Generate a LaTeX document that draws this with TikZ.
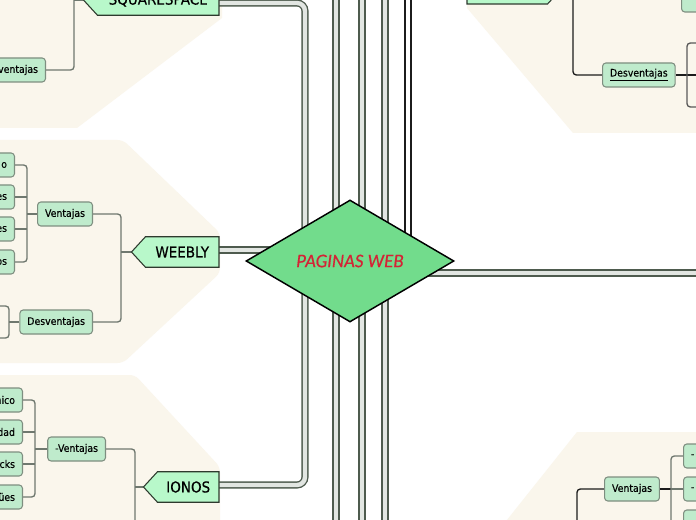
\documentclass[tikz,border=0pt]{standalone}
\usepackage{fontspec}
\usetikzlibrary{shapes.geometric}
\newfontfamily\boxfont[FakeStretch=0.9,FakeBold=0.2]{DejaVu Sans}
\newfontfamily\mainfont[FakeStretch=0.9,FakeBold=0.5]{DejaVu Sans}
\newfontfamily\diafont[FakeBold=0.6]{Lato}
\definecolor{beige}{HTML}{FAF6EC}
\definecolor{boxfill}{HTML}{BFEBCC}
\definecolor{boxline}{HTML}{7E8E80}
\definecolor{mainfill}{HTML}{B8F8CA}
\definecolor{mainline}{HTML}{2E3A2E}
\definecolor{diafill}{HTML}{72DC8C}
\definecolor{diatext}{HTML}{D42335}
\definecolor{dline}{HTML}{4E5B4E}
\definecolor{dinner}{HTML}{E2E6E2}
\definecolor{treeline}{HTML}{6F786F}
\definecolor{darkline}{HTML}{1C1C1C}
\pgfdeclarelayer{back}
\pgfdeclarelayer{mid}
\pgfsetlayers{back,mid,main}
\begin{document}
\begin{tikzpicture}[x=0.75pt,y=-0.75pt,
  dbl/.style={draw=dline,line width=1pt,double=dinner,double distance=3.3pt},
  dblk/.style={draw=darkline,line width=1pt,double=white,double distance=3.3pt},
  tl/.style={draw=treeline,line width=1pt,rounded corners=2.5pt},
  tlk/.style={draw=darkline,line width=1pt,rounded corners=2.5pt},
  tlg/.style={draw=black!65,line width=1pt,rounded corners=2.5pt},
  box/.style={draw=boxline,fill=boxfill,line width=0.8pt,rounded corners=2.5pt,
    minimum height=18pt,inner xsep=5.6pt,inner ysep=0pt,text=black,
    font=\boxfont\fontsize{7.8pt}{9pt}\selectfont},
  leafR/.style={box,anchor=east,text width=30pt,align=right},
  leafL/.style={box,anchor=west,text width=30pt,align=left},
  mainlbl/.style={minimum height=22.5pt,inner sep=0pt,text=black,
    font=\mainfont\fontsize{11.25pt}{13pt}\selectfont},
  mainshape/.style={fill=mainfill,draw=mainline,line width=0.8pt}
]
\useasboundingbox (0,0) rectangle (696,520);

% ---------- background regions ----------
\begin{pgfonlayer}{back}
\fill[white] (0,0) rectangle (696,520);
\fill[beige] (-10,-10) -- (222,-10) -- (222,18) -- (77,128) -- (-10,128) -- cycle;
\fill[beige,rounded corners=4pt] (-10,140) -- (123,140) -- (220,233) -- (220,273) -- (123,363) -- (-10,363) -- cycle;
\fill[beige,rounded corners=4pt] (-10,375) -- (135,375) -- (220,467) -- (220,540) -- (-10,540) -- cycle;
\fill[beige] (467,-10) -- (467,8) -- (573,133) -- (710,133) -- (710,-10) -- cycle;
\fill[beige] (577,432) -- (710,432) -- (710,540) -- (491,540) -- cycle;
\end{pgfonlayer}

% ---------- nodes ----------
\node[diamond,draw=black,line width=1.1pt,fill=diafill,aspect=1.7,inner sep=0pt,
  minimum width=156pt,minimum height=91.5pt,text=diatext,
  font=\diafont\itshape\fontsize{12.9pt}{14pt}\selectfont] (dia) at (350,261) {PAGINAS WEB};

\node[mainlbl,minimum width=90.75pt,anchor=east] (sq) at (219,0) {SQUARESPACE};
\node[mainlbl,minimum width=54.75pt,anchor=east] (wb) at (219,252) {WEEBLY};
\node[mainlbl,minimum width=45.75pt,anchor=east] (io) at (219,487) {IONOS};
\node[mainlbl,minimum width=60pt,anchor=south west] (trn) at (467,4) {};

% squarespace subtree
\node[leafR] (sv) at (46,70) {ventajas};
% weebly subtree
\node[box,anchor=east] (wv) at (93,214) {Ventajas};
\node[box,anchor=east] (wd) at (93,322) {Desventajas};
\node[leafR] (w1) at (15,165) {o};
\node[leafR] (w2) at (15,197) {es};
\node[leafR] (w3) at (15,229) {es};
\node[leafR] (w4) at (15,262) {os};
% ionos subtree
\node[box,anchor=east] (iv) at (106,449) {-Ventajas};
\node[leafR] (i1) at (23,400) {nico};
\node[leafR] (i2) at (23,432) {dad};
\node[leafR] (i3) at (23,464) {cks};
\node[leafR] (i4) at (23,497) {ües};
% top right subtree
\node[box,anchor=west] (dv2) at (602,75) {\underline{Desventajas}};
\node[leafL] (t1) at (681,0) {-};
% bottom right subtree
\node[box,anchor=west] (bv) at (604,489) {Ventajas};
\node[leafL] (b1) at (683,456) {-};
\node[leafL] (b2) at (683,489) {-};
\node[leafL] (b3) at (683,522) {};

% ---------- coordinates ----------
\coordinate (v1t) at (336,-10); \coordinate (v1b) at (336,530);
\coordinate (v2t) at (362,-10); \coordinate (v2b) at (362,530);
\coordinate (v3t) at (385,-10); \coordinate (v3b) at (385,530);
\coordinate (v4t) at (408,-10);
\coordinate (jL) at (305,261);
\coordinate (jR) at (420,273); \coordinate (jRe) at (710,273);
\coordinate (sqJ) at (74,0); \coordinate (sqT) at (74,-10);
\coordinate (wbJ) at (121,252);
\coordinate (wvJ) at (27,214);
\coordinate (wdJ) at (9,322); \coordinate (wdT) at (-8,306); \coordinate (wdB) at (-8,338);
\coordinate (ioJ) at (135,487); \coordinate (ioB) at (135,530);
\coordinate (ivJ) at (35,449);
\coordinate (trJ) at (573,75); \coordinate (trE) at (710,75);
\coordinate (trbT) at (710,43); \coordinate (trbJ) at (687,75); \coordinate (trbB) at (710,107);
\coordinate (brB) at (577,530); \coordinate (brJ) at (671,489); \coordinate (brB2) at (671,540);

% ---------- connectors and main shapes ----------
\begin{pgfonlayer}{mid}
\draw[dbl] (v1t) -- (v1b);
\draw[dbl] (v2t) -- (v2b);
\draw[dbl] (v3t) -- (v3b);
\draw[dblk] (v4t) -- (v4t |- dia.center);
\draw[dbl,rounded corners=6pt] ([yshift=-2.25pt]sq.east) -| (jL);
\draw[dbl,rounded corners=6pt] ([yshift=1.5pt]io.east) -| (jL);
\draw[dbl] ([yshift=1.5pt]wb.east) -- ++(70,0);
\draw[dbl] (jR) -- (jRe);

% squarespace tree
\draw[tl] ([xshift=-10.5pt]sq.west) -- (sqJ);
\draw[tl] (sqT) |- (sv.east);
% weebly tree
\draw[tl] ([xshift=-10.5pt]wb.west) -- (wbJ);
\draw[tl] (wv.east) -| (wbJ) |- (wd.east);
\draw[tl] (wv.west) -- (wvJ);
\draw[tl] (w1.east) -| (wvJ) |- (w4.east);
\draw[tl] (w2.east) -- (w2.east -| wvJ);
\draw[tl] (w3.east) -- (w3.east -| wvJ);
\draw[tl] (wd.west) -- (wdJ);
\draw[tl] (wdT) -| (wdJ) |- (wdB);
% ionos tree
\draw[tl] ([xshift=-10.5pt]io.west) -- (ioJ);
\draw[tl] (iv.east) -| (ioJ) -- (ioB);
\draw[tl] (iv.west) -- (ivJ);
\draw[tl] (i1.east) -| (ivJ) |- (i4.east);
\draw[tl] (i2.east) -- (i2.east -| ivJ);
\draw[tl] (i3.east) -- (i3.east -| ivJ);
% top right tree
\draw[tlk] ([xshift=10.5pt]trn.east) -| (trJ) -- (dv2.west);
\draw[tlk] (dv2.east) -- (trE);
\draw[tlg] (trbT) -| (trbJ) |- (trbB);
% bottom right tree
\draw[tlk] (bv.west) -| (brB);
\draw[tlk] (bv.east) -- (brJ);
\draw[tl] (b1.west) -| (brJ) -- (brB2);
\draw[tl] (b2.west) -- (b2.west -| brJ);
\draw[tl] (b3.west) -- (b3.west -| brJ);

% main node shapes
\filldraw[mainshape] (sq.north east) -- (sq.south east) -- (sq.south west) -- ([xshift=-10.5pt]sq.west) -- (sq.north west) -- cycle;
\filldraw[mainshape] (wb.north east) -- (wb.south east) -- (wb.south west) -- ([xshift=-10.5pt]wb.west) -- (wb.north west) -- cycle;
\filldraw[mainshape] (io.north east) -- (io.south east) -- (io.south west) -- ([xshift=-10.5pt]io.west) -- (io.north west) -- cycle;
\filldraw[mainshape] (trn.north west) -- (trn.north east) -- ([xshift=10.5pt]trn.east) -- (trn.south east) -- (trn.south west) -- cycle;
\end{pgfonlayer}
\end{tikzpicture}
\end{document}
